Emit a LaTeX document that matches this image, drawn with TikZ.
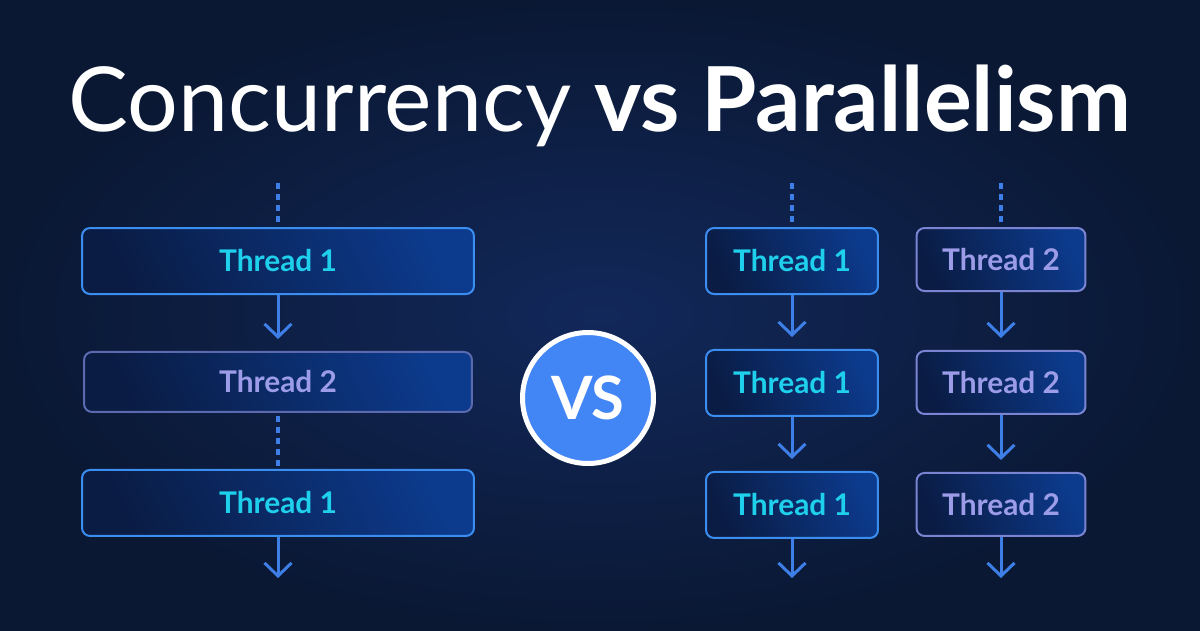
\documentclass[tikz,border=0pt]{standalone}
\usepackage{fontspec}
\setmainfont{Lato}
\usetikzlibrary{arrows.meta,positioning}
\definecolor{bgnavy}{HTML}{0A1834}
\definecolor{bgglow}{HTML}{12285A}
\definecolor{boxdark}{HTML}{0A1C44}
\definecolor{boxlight}{HTML}{0C3A8C}
\definecolor{edgeone}{HTML}{3B8EF0}
\definecolor{edgetwo}{HTML}{7A84D2}
\definecolor{edgefaint}{HTML}{5B6AAE}
\definecolor{textone}{HTML}{1FD0EC}
\definecolor{texttwo}{HTML}{9C9CE8}
\definecolor{arrowblue}{HTML}{3D7FE6}
\definecolor{vsblue}{HTML}{4285F5}

\begin{document}
\begin{tikzpicture}[x=0.02cm,y=-0.02cm,node distance=1.12cm and 5mm,
  box/.style={rounded corners=0.16cm,line width=0.04cm,minimum height=1.32cm,inner sep=0pt,
    left color=boxdark,right color=boxlight,shading angle=115,
    font=\bfseries\fontsize{17}{18}\selectfont},
  one/.style={box,draw=edgeone,text=textone},
  two/.style={box,draw=edgetwo,text=texttwo},
  flow/.style={draw=arrowblue,line width=0.06cm,shorten >=0.24cm,
    -{Straight Barb[length=0.26cm,width=0.54cm,line width=0.06cm]}},
  gap/.style={draw=arrowblue,line width=0.065cm,dash pattern=on 0.12cm off 0.1cm}]
% background
\fill[bgnavy] (0,0) rectangle (1200,630);
\shade[inner color=bgglow,outer color=bgnavy] (0,0) rectangle (1200,630);
\useasboundingbox (0,0) rectangle (1200,630);
% title
\node[anchor=base,text=white,font=\fontsize{51}{56}\selectfont] (title) at (600,131)
  {Concurrency \textbf{vs Parallelism}};
% concurrency: one column
\node[one,minimum width=7.84cm](c1) at (278,261){Thread 1};
\node[two,draw=edgefaint,minimum width=7.76cm,minimum height=1.2cm,below=of c1](c2){Thread 2};
\node[one,minimum width=7.84cm,below=of c2](c3){Thread 1};
\coordinate (ctop) at (278,183);
\coordinate (cend) at (278,590);
\draw[gap](ctop)--([yshift=0.08cm]c1.north);
\draw[flow](c1.south)--(c2.north);
\draw[gap]([yshift=-0.06cm]c2.south)--([yshift=0.04cm]c3.north);
\draw[flow](c3.south)--(cend);
% vs badge
\node[circle,fill=vsblue,draw=white,line width=0.1cm,minimum size=2.62cm,text=white,
  font=\bfseries\fontsize{34}{36}\selectfont](vs) at (588,398){VS};
% parallelism: two columns
\node[one,minimum width=3.44cm](a1) at (792,261){Thread 1};
\node[one,minimum width=3.44cm,below=1.08cm of a1](a2){Thread 1};
\node[one,minimum width=3.44cm,below=1.08cm of a2](a3){Thread 1};
\node[two,minimum width=3.38cm,minimum height=1.26cm](b1) at (1001,259.5){Thread 2};
\node[two,minimum width=3.38cm,minimum height=1.26cm,below=1.16cm of b1](b2){Thread 2};
\node[two,minimum width=3.38cm,minimum height=1.26cm,below=1.14cm of b2](b3){Thread 2};
\coordinate (atop) at (792,183);
\coordinate (aend) at (792,590);
\coordinate (btop) at (1001,183);
\coordinate (bend) at (1001,590);
\draw[gap](atop)--([yshift=0.1cm]a1.north);
\draw[gap](btop)--([yshift=0.1cm]b1.north);
\draw[flow](a1.south)--(a2.north);\draw[flow](a2.south)--(a3.north);\draw[flow](a3.south)--(aend);
\draw[flow](b1.south)--(b2.north);\draw[flow](b2.south)--(b3.north);\draw[flow](b3.south)--(bend);
\end{tikzpicture}
\end{document}
